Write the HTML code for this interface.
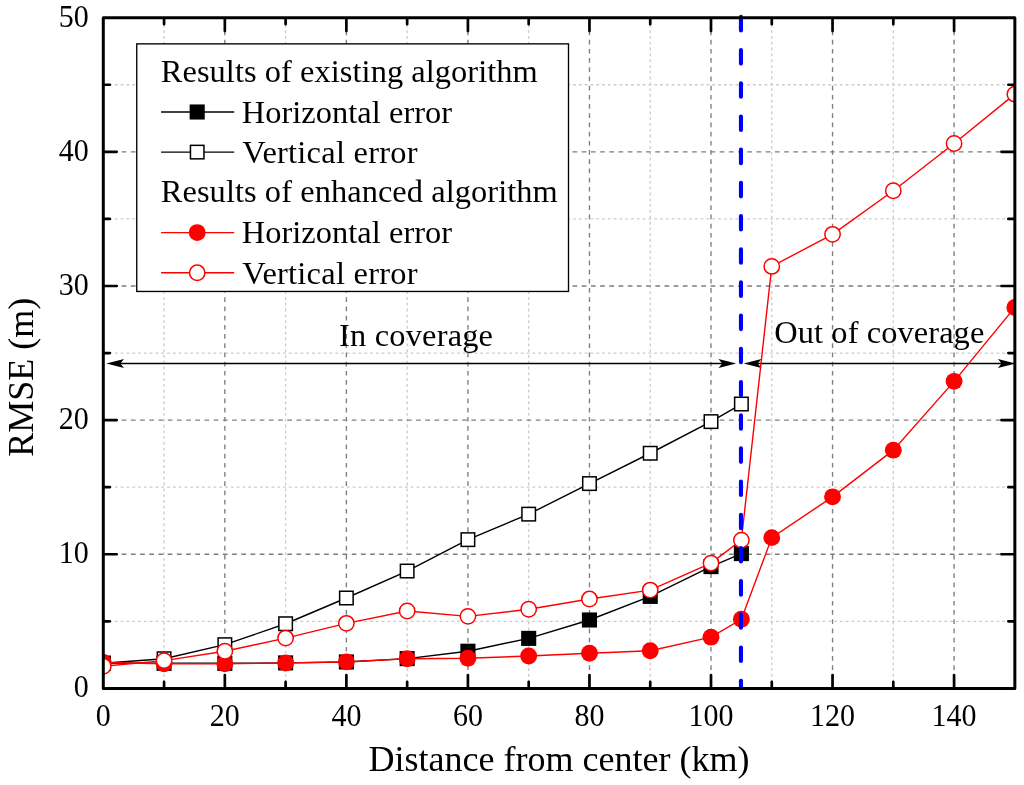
<!DOCTYPE html>
<html><head><meta charset="utf-8"><title>RMSE vs distance</title>
<style>html,body{margin:0;padding:0;background:#fff}svg{display:block}</style></head>
<body>
<svg width="1024" height="785" viewBox="0 0 1024 785">
<rect width="1024" height="785" fill="#fff"/>
<defs><clipPath id="c"><rect x="103.30" y="17.70" width="911.55" height="670.70"/></clipPath></defs>
<g fill="none" stroke="#cbcbcb" stroke-width="1.3" stroke-dasharray="2.8 3">
<path d="M164.07 688.40V17.70"/>
<path d="M285.61 688.40V17.70"/>
<path d="M407.15 688.40V17.70"/>
<path d="M528.69 688.40V17.70"/>
<path d="M650.23 688.40V17.70"/>
<path d="M771.77 688.40V17.70"/>
<path d="M893.31 688.40V17.70"/>
<path d="M103.30 621.33H1014.85"/>
<path d="M103.30 487.19H1014.85"/>
<path d="M103.30 353.05H1014.85"/>
<path d="M103.30 218.91H1014.85"/>
<path d="M103.30 84.77H1014.85"/>
</g>
<g fill="none" stroke="#7e7e7e" stroke-width="1.35" stroke-dasharray="4.7 4.5">
<path d="M224.84 688.40V17.70"/>
<path d="M346.38 688.40V17.70"/>
<path d="M467.92 688.40V17.70"/>
<path d="M589.46 688.40V17.70"/>
<path d="M711.00 688.40V17.70"/>
<path d="M832.54 688.40V17.70"/>
<path d="M954.08 688.40V17.70"/>
<path d="M103.30 554.26H1014.85"/>
<path d="M103.30 420.12H1014.85"/>
<path d="M103.30 285.98H1014.85"/>
<path d="M103.30 151.84H1014.85"/>
</g>
<path d="M116.30 363.5H726.20" stroke="#000" stroke-width="1.3" fill="none"/>
<path d="M106.30 363.5L124.00 359.0L120.30 363.5L124.00 368.0Z" fill="#000"/>
<path d="M736.20 363.5L718.50 359.0L722.20 363.5L718.50 368.0Z" fill="#000"/>
<path d="M753.70 363.5H1005.60" stroke="#000" stroke-width="1.3" fill="none"/>
<path d="M743.70 363.5L761.40 359.0L757.70 363.5L761.40 368.0Z" fill="#000"/>
<path d="M1015.60 363.5L997.90 359.0L1001.60 363.5L997.90 368.0Z" fill="#000"/>
<g clip-path="url(#c)">
<polyline points="103.30,663.18 164.07,663.32 224.84,663.32 285.61,662.91 346.38,661.97 407.15,658.62 467.92,651.24 528.69,638.37 589.46,619.99 650.23,596.38 711.00,566.60 741.38,553.59" fill="none" stroke="#000" stroke-width="1.4"/>
<rect x="95.75" y="655.63" width="15.1" height="15.1" fill="#000"/>
<rect x="156.52" y="655.77" width="15.1" height="15.1" fill="#000"/>
<rect x="217.29" y="655.77" width="15.1" height="15.1" fill="#000"/>
<rect x="278.06" y="655.36" width="15.1" height="15.1" fill="#000"/>
<rect x="338.83" y="654.42" width="15.1" height="15.1" fill="#000"/>
<rect x="399.60" y="651.07" width="15.1" height="15.1" fill="#000"/>
<rect x="460.37" y="643.69" width="15.1" height="15.1" fill="#000"/>
<rect x="521.14" y="630.82" width="15.1" height="15.1" fill="#000"/>
<rect x="581.91" y="612.44" width="15.1" height="15.1" fill="#000"/>
<rect x="642.68" y="588.83" width="15.1" height="15.1" fill="#000"/>
<rect x="703.45" y="559.05" width="15.1" height="15.1" fill="#000"/>
<rect x="733.84" y="546.04" width="15.1" height="15.1" fill="#000"/>
<polyline points="103.30,663.32 164.07,658.76 224.84,644.67 285.61,623.74 346.38,597.99 407.15,571.03 467.92,539.64 528.69,514.15 589.46,483.57 650.23,453.25 711.00,421.60 741.38,404.02" fill="none" stroke="#000" stroke-width="1.4"/>
<rect x="96.55" y="656.57" width="13.5" height="13.5" fill="#fff" stroke="#000" stroke-width="1.5"/>
<rect x="157.32" y="652.01" width="13.5" height="13.5" fill="#fff" stroke="#000" stroke-width="1.5"/>
<rect x="218.09" y="637.92" width="13.5" height="13.5" fill="#fff" stroke="#000" stroke-width="1.5"/>
<rect x="278.86" y="616.99" width="13.5" height="13.5" fill="#fff" stroke="#000" stroke-width="1.5"/>
<rect x="339.63" y="591.24" width="13.5" height="13.5" fill="#fff" stroke="#000" stroke-width="1.5"/>
<rect x="400.40" y="564.28" width="13.5" height="13.5" fill="#fff" stroke="#000" stroke-width="1.5"/>
<rect x="461.17" y="532.89" width="13.5" height="13.5" fill="#fff" stroke="#000" stroke-width="1.5"/>
<rect x="521.94" y="507.40" width="13.5" height="13.5" fill="#fff" stroke="#000" stroke-width="1.5"/>
<rect x="582.71" y="476.82" width="13.5" height="13.5" fill="#fff" stroke="#000" stroke-width="1.5"/>
<rect x="643.48" y="446.50" width="13.5" height="13.5" fill="#fff" stroke="#000" stroke-width="1.5"/>
<rect x="704.25" y="414.85" width="13.5" height="13.5" fill="#fff" stroke="#000" stroke-width="1.5"/>
<rect x="734.63" y="397.27" width="13.5" height="13.5" fill="#fff" stroke="#000" stroke-width="1.5"/>
<polyline points="103.30,662.51 164.07,663.72 224.84,663.72 285.61,663.05 346.38,661.84 407.15,658.76 467.92,658.22 528.69,656.07 589.46,653.26 650.23,650.71 711.00,637.16 741.38,619.32 771.77,537.63 832.54,496.85 893.31,450.17 954.08,381.35 1014.85,307.44" fill="none" stroke="#f00" stroke-width="1.4"/>
<circle cx="103.30" cy="662.51" r="8.45" fill="#f00"/>
<circle cx="164.07" cy="663.72" r="8.45" fill="#f00"/>
<circle cx="224.84" cy="663.72" r="8.45" fill="#f00"/>
<circle cx="285.61" cy="663.05" r="8.45" fill="#f00"/>
<circle cx="346.38" cy="661.84" r="8.45" fill="#f00"/>
<circle cx="407.15" cy="658.76" r="8.45" fill="#f00"/>
<circle cx="467.92" cy="658.22" r="8.45" fill="#f00"/>
<circle cx="528.69" cy="656.07" r="8.45" fill="#f00"/>
<circle cx="589.46" cy="653.26" r="8.45" fill="#f00"/>
<circle cx="650.23" cy="650.71" r="8.45" fill="#f00"/>
<circle cx="711.00" cy="637.16" r="8.45" fill="#f00"/>
<circle cx="741.38" cy="619.32" r="8.45" fill="#f00"/>
<circle cx="771.77" cy="537.63" r="8.45" fill="#f00"/>
<circle cx="832.54" cy="496.85" r="8.45" fill="#f00"/>
<circle cx="893.31" cy="450.17" r="8.45" fill="#f00"/>
<circle cx="954.08" cy="381.35" r="8.45" fill="#f00"/>
<circle cx="1014.85" cy="307.44" r="8.45" fill="#f00"/>
<polyline points="103.30,666.27 164.07,660.63 224.84,651.24 285.61,638.10 346.38,623.34 407.15,611.00 467.92,616.37 528.69,609.26 589.46,599.06 650.23,590.08 711.00,563.11 741.38,540.18 771.77,266.40 832.54,234.34 893.31,190.74 954.08,143.52 1014.85,94.16" fill="none" stroke="#f00" stroke-width="1.4"/>
<circle cx="103.30" cy="666.27" r="7.7" fill="#fff" stroke="#f00" stroke-width="1.5"/>
<circle cx="164.07" cy="660.63" r="7.7" fill="#fff" stroke="#f00" stroke-width="1.5"/>
<circle cx="224.84" cy="651.24" r="7.7" fill="#fff" stroke="#f00" stroke-width="1.5"/>
<circle cx="285.61" cy="638.10" r="7.7" fill="#fff" stroke="#f00" stroke-width="1.5"/>
<circle cx="346.38" cy="623.34" r="7.7" fill="#fff" stroke="#f00" stroke-width="1.5"/>
<circle cx="407.15" cy="611.00" r="7.7" fill="#fff" stroke="#f00" stroke-width="1.5"/>
<circle cx="467.92" cy="616.37" r="7.7" fill="#fff" stroke="#f00" stroke-width="1.5"/>
<circle cx="528.69" cy="609.26" r="7.7" fill="#fff" stroke="#f00" stroke-width="1.5"/>
<circle cx="589.46" cy="599.06" r="7.7" fill="#fff" stroke="#f00" stroke-width="1.5"/>
<circle cx="650.23" cy="590.08" r="7.7" fill="#fff" stroke="#f00" stroke-width="1.5"/>
<circle cx="711.00" cy="563.11" r="7.7" fill="#fff" stroke="#f00" stroke-width="1.5"/>
<circle cx="741.38" cy="540.18" r="7.7" fill="#fff" stroke="#f00" stroke-width="1.5"/>
<circle cx="771.77" cy="266.40" r="7.7" fill="#fff" stroke="#f00" stroke-width="1.5"/>
<circle cx="832.54" cy="234.34" r="7.7" fill="#fff" stroke="#f00" stroke-width="1.5"/>
<circle cx="893.31" cy="190.74" r="7.7" fill="#fff" stroke="#f00" stroke-width="1.5"/>
<circle cx="954.08" cy="143.52" r="7.7" fill="#fff" stroke="#f00" stroke-width="1.5"/>
<circle cx="1014.85" cy="94.16" r="7.7" fill="#fff" stroke="#f00" stroke-width="1.5"/>
</g>
<path d="M740.95 16.9V687.6" stroke="#00f" stroke-width="4.1" stroke-linecap="round" stroke-dasharray="13.5 19.69" fill="none"/>
<rect x="103.30" y="17.70" width="911.55" height="670.70" fill="none" stroke="#000" stroke-width="3" stroke-linejoin="round"/>
<g stroke="#000" stroke-width="2.7" stroke-linecap="round" fill="none">
<path d="M164.07 687.80v-5.9M164.07 18.30v5.9"/>
<path d="M224.84 687.80v-12.8M224.84 18.30v12.8"/>
<path d="M285.61 687.80v-5.9M285.61 18.30v5.9"/>
<path d="M346.38 687.80v-12.8M346.38 18.30v12.8"/>
<path d="M407.15 687.80v-5.9M407.15 18.30v5.9"/>
<path d="M467.92 687.80v-12.8M467.92 18.30v12.8"/>
<path d="M528.69 687.80v-5.9M528.69 18.30v5.9"/>
<path d="M589.46 687.80v-12.8M589.46 18.30v12.8"/>
<path d="M650.23 687.80v-5.9M650.23 18.30v5.9"/>
<path d="M711.00 687.80v-12.8M711.00 18.30v12.8"/>
<path d="M771.77 687.80v-5.9M771.77 18.30v5.9"/>
<path d="M832.54 687.80v-12.8M832.54 18.30v12.8"/>
<path d="M893.31 687.80v-5.9M893.31 18.30v5.9"/>
<path d="M954.08 687.80v-12.8M954.08 18.30v12.8"/>
<path d="M103.90 621.33h5.9M1014.25 621.33h-5.9"/>
<path d="M103.90 554.26h12.8M1014.25 554.26h-12.8"/>
<path d="M103.90 487.19h5.9M1014.25 487.19h-5.9"/>
<path d="M103.90 420.12h12.8M1014.25 420.12h-12.8"/>
<path d="M103.90 353.05h5.9M1014.25 353.05h-5.9"/>
<path d="M103.90 285.98h12.8M1014.25 285.98h-12.8"/>
<path d="M103.90 218.91h5.9M1014.25 218.91h-5.9"/>
<path d="M103.90 151.84h12.8M1014.25 151.84h-12.8"/>
<path d="M103.90 84.77h5.9M1014.25 84.77h-5.9"/>
</g>
<g font-family="Liberation Serif, Times New Roman, serif" font-size="30" fill="#000">
<text transform="translate(103.30 725.9) scale(1 1.08)" text-anchor="middle">0</text>
<text transform="translate(224.84 725.9) scale(1 1.08)" text-anchor="middle">20</text>
<text transform="translate(346.38 725.9) scale(1 1.08)" text-anchor="middle">40</text>
<text transform="translate(467.92 725.9) scale(1 1.08)" text-anchor="middle">60</text>
<text transform="translate(589.46 725.9) scale(1 1.08)" text-anchor="middle">80</text>
<text transform="translate(711.00 725.9) scale(1 1.08)" text-anchor="middle">100</text>
<text transform="translate(832.54 725.9) scale(1 1.08)" text-anchor="middle">120</text>
<text transform="translate(954.08 725.9) scale(1 1.08)" text-anchor="middle">140</text>
<text transform="translate(88.7 697.30) scale(1 1.08)" text-anchor="end">0</text>
<text transform="translate(88.7 563.16) scale(1 1.08)" text-anchor="end">10</text>
<text transform="translate(88.7 429.02) scale(1 1.08)" text-anchor="end">20</text>
<text transform="translate(88.7 294.88) scale(1 1.08)" text-anchor="end">30</text>
<text transform="translate(88.7 160.74) scale(1 1.08)" text-anchor="end">40</text>
<text transform="translate(88.7 26.60) scale(1 1.08)" text-anchor="end">50</text>
</g>
<text font-family="Liberation Serif, Times New Roman, serif" font-size="36" x="559" y="771.2" text-anchor="middle">Distance from center (km)</text>
<text font-family="Liberation Serif, Times New Roman, serif" font-size="36" transform="translate(33.4 377.2) rotate(-90)" text-anchor="middle">RMSE (m)</text>
<text font-family="Liberation Serif, Times New Roman, serif" font-size="32.4" x="339" y="345.9" textLength="154">In coverage</text>
<text font-family="Liberation Serif, Times New Roman, serif" font-size="32.4" x="774.3" y="343.2" textLength="210">Out of coverage</text>
<rect x="136.75" y="43.87" width="431.75" height="247.58" fill="#fff" stroke="#000" stroke-width="1.35"/>
<g font-family="Liberation Serif, Times New Roman, serif" font-size="32.4" fill="#000">
<text x="160.8" y="81.9" textLength="377">Results of existing algorithm</text>
<text x="241.8" y="122.7" textLength="210.3">Horizontal error</text>
<text x="242.3" y="162.9" textLength="175.3">Vertical error</text>
<text x="160.8" y="202.3" textLength="397">Results of enhanced algorithm</text>
<text x="241.8" y="243.4" textLength="210.3">Horizontal error</text>
<text x="242.3" y="283.5" textLength="175.3">Vertical error</text>
</g>
<path d="M161.1 112.0H234.2" stroke="#000" stroke-width="1.4" fill="none"/>
<rect x="189.64999999999998" y="104.45" width="15.1" height="15.1" fill="#000"/>
<path d="M161.1 152.1H234.2" stroke="#000" stroke-width="1.4" fill="none"/>
<rect x="190.45" y="145.35" width="13.5" height="13.5" fill="#fff" stroke="#000" stroke-width="1.5"/>
<path d="M161.1 232.6H234.2" stroke="#f00" stroke-width="1.4" fill="none"/>
<circle cx="197.2" cy="232.6" r="8.45" fill="#f00"/>
<path d="M161.1 272.8H234.2" stroke="#f00" stroke-width="1.4" fill="none"/>
<circle cx="197.2" cy="272.8" r="7.7" fill="#fff" stroke="#f00" stroke-width="1.5"/>
</svg>
</body></html>
